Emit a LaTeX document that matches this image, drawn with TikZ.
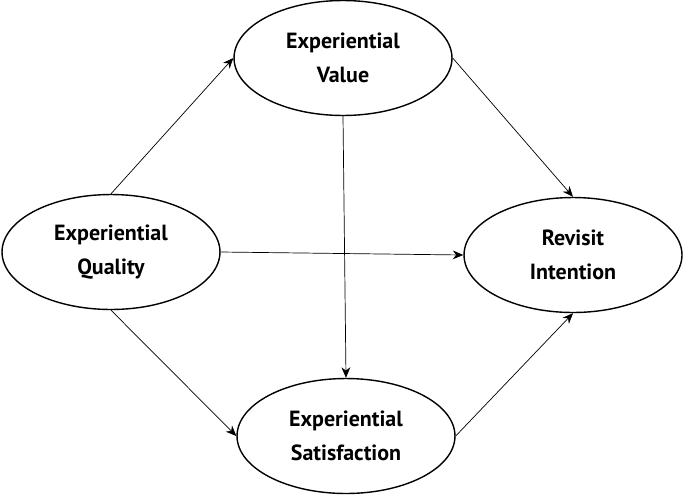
\documentclass[tikz,border=0pt]{standalone}
\usepackage{fontspec}
\setmainfont{PT Sans}
\usetikzlibrary{arrows.meta, positioning, shapes.geometric}
\tikzset{
  construct/.style={draw, ellipse, thick, minimum width=4.36cm, minimum height=2.3cm, align=center, font=\fontsize{12.5}{19}\selectfont\bfseries},
  link/.style={-{Stealth[length=6pt,width=5pt]}, thin}
}
\begin{document}
\begin{tikzpicture}[x=0.02cm, y=-0.02cm]
  \useasboundingbox (0,0) rectangle (685,494);
  % constructs
  \node [construct] (value) at (343,58) {Experiential\\Value};
  \node [construct] (quality) at (111,252) {Experiential\\Quality};
  \node [construct] (revisit) at (573,255) {Revisit\\Intention};
  \node [construct] (satisf) at (346,436) {Experiential\\Satisfaction};
  % paths
  \draw [link] (quality.north) -- (value.west);
  \draw [link] (quality.east) -- (revisit.west);
  \draw [link] (quality.south) -- (satisf.west);
  \draw [link] (value.south) -- (satisf.north);
  \draw [link] (value.east) -- (revisit.north);
  \draw [link] (satisf.east) -- (revisit.south);
\end{tikzpicture}
\end{document}
